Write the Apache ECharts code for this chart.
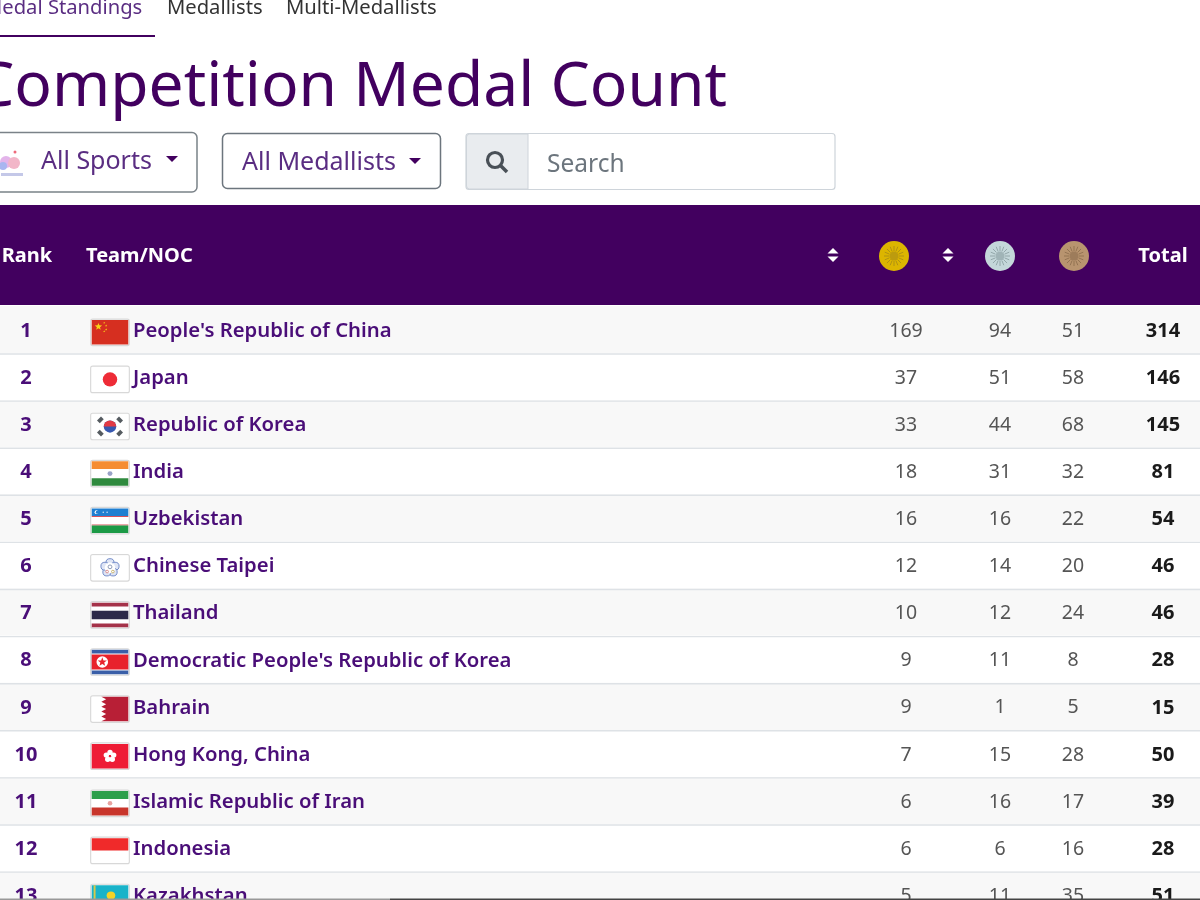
<!DOCTYPE html>
<html>
<head>
<meta charset="utf-8">
<title>Competition Medal Count</title>
<script src="https://cdn.jsdelivr.net/npm/echarts@6/dist/echarts.min.js"></script>
<style>
html, body { margin: 0; padding: 0; background: #fff; }
#main { width: 1200px; height: 900px; }
</style>
</head>
<body>
<div id="main"></div>
<script>
/* 表格数据 */
var ranks = [1, 2, 3, 4, 5, 6, 7, 8, 9, 10, 11, 12, 13];
var teams = ["People's Republic of China", 'Japan', 'Republic of Korea', 'India', 'Uzbekistan', 'Chinese Taipei',
    'Thailand', "Democratic People's Republic of Korea", 'Bahrain', 'Hong Kong, China', 'Islamic Republic of Iran',
    'Indonesia', 'Kazakhstan'];
var flagCodes = ['CHN', 'JPN', 'KOR', 'IND', 'UZB', 'TPE', 'THA', 'PRK', 'BRN', 'HKG', 'IRI', 'INA', 'KAZ'];
var gold = [169, 37, 33, 18, 16, 12, 10, 9, 9, 7, 6, 6, 5];
var silver = [94, 51, 44, 31, 16, 14, 12, 11, 1, 15, 16, 6, 11];
var bronze = [51, 58, 68, 32, 22, 20, 24, 8, 5, 28, 17, 16, 35];
var totals = [314, 146, 145, 81, 54, 46, 46, 28, 15, 50, 39, 28, 51];
var tabLabels = ['Medal Standings', 'Medallists', 'Multi-Medallists'];
var headerLabels = ['Rank', 'Team/NOC', 'Total'];

var purple = '#42005f';
var linkPurple = '#4a0e78';
var fontName = '"Noto Sans", "Open Sans", sans-serif';
var rowHeight = 47.1;
var colX = { rank: 26, flag: 91, team: 133, gold: 906, silver: 1000, bronze: 1073, total: 1163 };

function rect(x, y, w, h, fill) {
    return { type: 'rect', shape: { x: x, y: y, width: w, height: h }, style: { fill: fill } };
}
function circle(cx, cy, r, fill, stroke) {
    return { type: 'circle', shape: { cx: cx, cy: cy, r: r }, style: { fill: fill, stroke: stroke, lineWidth: stroke ? 1 : 0 } };
}
function poly(points, fill) {
    return { type: 'polygon', shape: { points: points }, style: { fill: fill } };
}
function star(cx, cy, r, fill) {
    var pts = [];
    for (var i = 0; i < 10; i++) {
        var a = -Math.PI / 2 + i * Math.PI / 5;
        var rr = i % 2 ? r * 0.42 : r;
        pts.push([cx + rr * Math.cos(a), cy + rr * Math.sin(a)]);
    }
    return poly(pts, fill);
}
function bars(cx, cy, angle, fill) {
    // 韩国国旗四角的卦
    return { type: 'rect', x: cx, y: cy, rotation: angle, shape: { x: -3, y: -2, width: 6, height: 4 }, style: { fill: fill } };
}

/* 国旗：38x26 小图 */
var flagPainters = {
    CHN: function () {
        return [rect(0, 0, 38, 26, '#d62f20'), star(7, 7, 4, '#f7d417'), star(13, 3, 1.2, '#f7d417'),
            star(15, 6, 1.2, '#f7d417'), star(15, 10, 1.2, '#f7d417'), star(13, 12, 1.2, '#f7d417')];
    },
    JPN: function () {
        return [rect(0, 0, 38, 26, '#fff'), circle(19, 13, 7.5, '#ee2c37')];
    },
    KOR: function () {
        var dark = '#555b60';
        return [rect(0, 0, 38, 26, '#fff'), circle(19, 13, 6.5, '#3758b0'),
            { type: 'sector', shape: { cx: 19, cy: 13, r: 6.5, startAngle: Math.PI, endAngle: Math.PI * 2 }, style: { fill: '#e23a45' } },
            bars(9, 6, 0.8, dark), bars(29, 6, -0.8, dark), bars(9, 20, -0.8, dark), bars(29, 20, 0.8, dark)];
    },
    IND: function () {
        return [rect(0, 0, 38, 26, '#fff'), rect(0, 0, 38, 8, '#f58d33'), rect(0, 18, 38, 8, '#2f8a3e'), circle(19, 13, 2.6, '#9aa3c8')];
    },
    UZB: function () {
        return [rect(0, 0, 38, 26, '#fff'), rect(0, 0, 38, 8, '#1f7fd1'), rect(0, 8, 38, 1, '#d9535a'),
            rect(0, 17, 38, 1, '#d9535a'), rect(0, 18, 38, 8, '#1c9a46'), circle(5, 4, 2, '#fff'), circle(6, 4, 1.7, '#1f7fd1'),
            circle(12, 4, 0.8, '#cfe3f5'), circle(16, 4, 0.8, '#cfe3f5')];
    },
    TPE: function () {
        var petals = [];
        for (var i = 0; i < 5; i++) {
            var a = -Math.PI / 2 + i * Math.PI * 2 / 5;
            petals.push(circle(19 + 5.5 * Math.cos(a), 13 + 5.5 * Math.sin(a), 4.2, '#dfe5f5', '#6f88c6'));
        }
        return [rect(0, 0, 38, 26, '#fff')].concat(petals, [circle(19, 13, 5.5, '#fff'), circle(19, 12, 2, '#fff', '#8a97b5'),
            circle(16, 17, 1.4, '#fff', '#d88a8a'), circle(22, 17, 1.4, '#fff', '#c8b26a')]);
    },
    THA: function () {
        return [rect(0, 0, 38, 26, '#fff'), rect(0, 0, 38, 4, '#a5334a'), rect(0, 8.5, 38, 9, '#2d2a4a'), rect(0, 22, 38, 4, '#a5334a')];
    },
    PRK: function () {
        return [rect(0, 0, 38, 26, '#3a5fa8'), rect(0, 4, 38, 18, '#fff'), rect(0, 5, 38, 16, '#e8222c'),
            circle(11, 13, 6, '#fff'), star(11, 13, 5, '#e8222c')];
    },
    BRN: function () {
        return [rect(0, 0, 38, 26, '#fff'),
            poly([[38, 0], [10, 0], [15, 2.6], [10, 5.2], [15, 7.8], [10, 10.4], [15, 13], [10, 15.6], [15, 18.2], [10, 20.8], [15, 23.4], [10, 26], [38, 26]], '#b81f36')];
    },
    HKG: function () {
        var petals = [];
        for (var i = 0; i < 5; i++) {
            var a = -Math.PI / 2 + i * Math.PI * 2 / 5;
            petals.push(circle(19 + 4 * Math.cos(a), 13 + 4 * Math.sin(a), 2.8, '#fff'));
        }
        return [rect(0, 0, 38, 26, '#ee1c35')].concat(petals);
    },
    IRI: function () {
        return [rect(0, 0, 38, 26, '#fff'), rect(0, 0, 38, 8.5, '#2d9f4b'), rect(0, 17.5, 38, 8.5, '#c8352b'), circle(19, 13, 2.4, '#e8a3a0')];
    },
    INA: function () {
        return [rect(0, 0, 38, 26, '#fff'), rect(0, 0, 38, 13, '#f02a2a')];
    },
    KAZ: function () {
        return [rect(0, 0, 38, 26, '#19b3c9'), rect(2, 0, 2, 26, '#d8c84a'), circle(20, 11, 4.5, '#f5d327'), rect(14, 16, 12, 3, '#f5d327')];
    }
};

function rowText(x, y, text, align, font) {
    return { type: 'text', style: { x: x, y: y + 1.5, text: text, align: align, verticalAlign: 'middle',
        fontFamily: fontName, fontSize: font.size, fontWeight: font.weight, fill: font.color } };
}

/* 渲染一行：底色、分隔线、名次、国旗、队名、奖牌数 */
function renderRow(params, api) {
    var i = api.value(0);
    var c = api.coord([0, i]);
    var cy = c[1];
    var top = cy - rowHeight / 2;
    var numFont = { size: 19.5, weight: 400, color: '#555' };
    var nameFont = { size: 20.3, weight: 600, color: linkPurple };
    var totalFont = { size: 20, weight: 700, color: '#1a1a1a' };
    var flagTop = cy - 10;
    var code = flagCodes[i];
    var children = [
        rect(0, top, 1200, rowHeight, i % 2 === 0 ? '#f8f8f8' : '#ffffff'),
        rowText(api.coord([colX.rank, i])[0], cy, String(ranks[i]), 'center', { size: 20, weight: 700, color: linkPurple }),
        { type: 'rect', shape: { x: colX.flag - 0.3, y: flagTop - 0.5, width: 38.6, height: 26.5, r: 2 }, style: { fill: '#fff', stroke: '#d8d8d8', lineWidth: 1.2 } },
        { type: 'group', x: api.coord([colX.flag, i])[0] + 0.7, y: flagTop + 0.5, scaleX: 36.6 / 38, scaleY: 24.5 / 26, children: flagPainters[code]() },
        rowText(api.coord([colX.team, i])[0], cy, teams[i], 'left', nameFont),
        rowText(api.coord([colX.gold, i])[0], cy, String(gold[i]), 'center', numFont),
        rowText(api.coord([colX.silver, i])[0], cy, String(silver[i]), 'center', numFont),
        rowText(api.coord([colX.bronze, i])[0], cy, String(bronze[i]), 'center', numFont),
        rowText(api.coord([colX.total, i])[0], cy, String(totals[i]), 'center', totalFont)
    ];
    // 第一行紧贴表头，不需要分隔线
    if (i > 0) {
        children.splice(1, 0, rect(0, top + 0.2, 1200, 1.4, '#dee2e6'));
    }
    return { type: 'group', children: children };
}

/* 页面上部的文字和控件 */
function topText(x, y, text, size, color, weight, align) {
    return { type: 'text', z: 10, style: { x: x, y: y, text: text, align: align || 'left', verticalAlign: 'middle',
        fontFamily: fontName, fontSize: size, fontWeight: weight || 400, fill: color } };
}
function box(x, y, w, h, r, fill, stroke, lineWidth) {
    return { type: 'rect', z: 9, shape: { x: x, y: y, width: w, height: h, r: r }, style: { fill: fill, stroke: stroke, lineWidth: lineWidth || 1 } };
}
function caret(cx, cy, color) {
    return { type: 'polygon', z: 10, shape: { points: [[cx - 6, cy - 3], [cx + 6, cy - 3], [cx, cy + 3]] }, style: { fill: color } };
}
function sortArrows(cx, cy) {
    return [
        { type: 'polygon', z: 10, shape: { points: [[cx - 5.5, cy - 1.5], [cx + 5.5, cy - 1.5], [cx, cy - 7]] }, style: { fill: '#fff' } },
        { type: 'polygon', z: 10, shape: { points: [[cx - 5.5, cy + 1.5], [cx + 5.5, cy + 1.5], [cx, cy + 7]] }, style: { fill: '#fff' } }
    ];
}
function medal(cx, cy, fill, dark) {
    var out = [{ type: 'circle', z: 10, shape: { cx: cx, cy: cy, r: 15 }, style: { fill: fill } }];
    for (var k = 0; k < 16; k++) {
        var a = k * Math.PI / 8;
        out.push({ type: 'line', z: 11, shape: { x1: cx + 5 * Math.cos(a), y1: cy + 5 * Math.sin(a), x2: cx + 10 * Math.cos(a), y2: cy + 10 * Math.sin(a) },
            style: { stroke: dark, lineWidth: 1, opacity: 0.75 } });
    }
    out.push({ type: 'circle', z: 11, shape: { cx: cx, cy: cy, r: 4.5 }, style: { fill: dark, opacity: 0.55 } });
    return out;
}
function logo() {
    return [
        { type: 'circle', z: 10, shape: { cx: 6, cy: 162, r: 6 }, style: { fill: '#e3b4ea' } },
        { type: 'circle', z: 10, shape: { cx: 14, cy: 163, r: 6 }, style: { fill: '#f2b6c8' } },
        { type: 'circle', z: 10, shape: { cx: 3, cy: 166, r: 4 }, style: { fill: '#a9b6f0' } },
        { type: 'circle', z: 10, shape: { cx: 15, cy: 152, r: 1.5 }, style: { fill: '#ee6a7a' } },
        { type: 'rect', z: 10, shape: { x: 1, y: 173, width: 22, height: 3 }, style: { fill: '#c4c8e8' } }
    ];
}

var graphics = [
    // 表头
    { type: 'rect', z: 5, shape: { x: 0, y: 205, width: 1200, height: 100 }, style: { fill: purple } },
    topText(-16, 8, tabLabels[0], 20.2, '#5a2d82'),
    topText(167, 8, tabLabels[1], 20.2, '#333'),
    topText(286, 8, tabLabels[2], 20.2, '#333'),
    { type: 'rect', z: 10, shape: { x: 0, y: 35, width: 155, height: 2 }, style: { fill: purple } },
    topText(-25, 88.5, 'Competition Medal Count', 62.3, purple),
    // 下拉按钮
    box(-20, 132.5, 217, 59.5, 5, '#fff', '#7a8288', 1.5),
    topText(41, 162, 'All Sports', 25, '#5a2d82'),
    caret(172, 159, purple),
    box(222.5, 133.5, 218, 55, 5, '#fff', '#6c757d', 1.5),
    topText(242, 163, 'All Medallists', 25, '#5a2d82'),
    caret(415, 161, purple),
    // 搜索框
    box(466, 133.5, 369, 56, 3, '#fff', '#ced4da', 1.2),
    { type: 'rect', z: 9, shape: { x: 466.5, y: 134, width: 61.5, height: 55, r: [3, 0, 0, 3] }, style: { fill: '#e9ecef', stroke: '#ced4da', lineWidth: 1 } },
    { type: 'circle', z: 10, shape: { cx: 495, cy: 160, r: 7.5 }, style: { fill: 'none', stroke: '#495057', lineWidth: 3.2 } },
    { type: 'line', z: 10, shape: { x1: 500.5, y1: 165.5, x2: 507, y2: 172 }, style: { stroke: '#495057', lineWidth: 3.6 } },
    topText(547, 165, 'Search', 24.5, '#6c757d'),
    // 表头文字
    topText(27, 256, headerLabels[0], 20, '#fff', 700, 'center'),
    topText(86, 256, headerLabels[1], 20, '#fff', 700),
    topText(1163, 256, headerLabels[2], 20, '#fff', 700, 'center'),
    // 页面底部的深色边线
    { type: 'rect', z: 20, shape: { x: 390, y: 898.5, width: 810, height: 1.5 }, style: { fill: '#444' } },
    { type: 'rect', z: 20, shape: { x: 0, y: 898.5, width: 390, height: 1.5 }, style: { fill: '#999' } }
].concat(logo(), sortArrows(833, 255), sortArrows(948, 255),
    medal(894, 256, '#dcb500', '#a2851a'), medal(1000, 256, '#c4d7da', '#83979a'), medal(1074, 256, '#b8946f', '#86684a'));

var myChart = echarts.init(document.getElementById('main'), null, { renderer: 'canvas' });
var option = {
    animation: false,
    backgroundColor: '#fff',
    grid: { left: 0, top: 306, width: 1200, height: rowHeight * ranks.length, outerBoundsMode: 'none' },
    xAxis: { type: 'value', min: 0, max: 1200, show: false },
    yAxis: { type: 'category', inverse: true, show: false, data: ranks },
    graphic: { elements: graphics },
    series: [{
        type: 'custom',
        clip: false,
        silent: true,
        encode: { y: 0 },
        data: ranks.map(function (r, i) { return [i]; }),
        renderItem: renderRow
    }]
};
myChart.setOption(option);
</script>
</body>
</html>
